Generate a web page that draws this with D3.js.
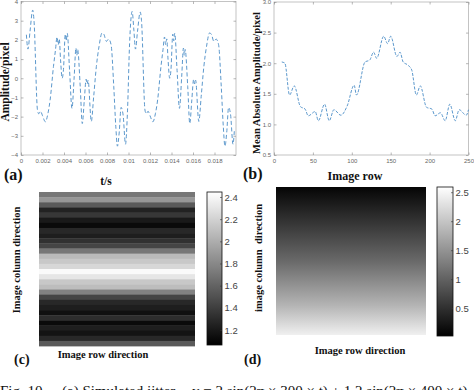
<!DOCTYPE html>
<html><head><meta charset="utf-8">
<script src="https://cdn.jsdelivr.net/npm/d3@7/dist/d3.min.js"></script>
<style>body{margin:0;background:#fff}svg{display:block}</style></head>
<body>
<svg id="fig" width="474" height="390"></svg>
<script>
// ---- Panel (a): simulated jitter ----
const tA = [0.00050,0.00065,0.00084,0.00109,0.00121,0.00153,0.00165,0.00182,0.00200,0.00227,0.00250,0.00271,0.00302,0.00321,0.00335,0.00346,0.00356,0.00368,0.00383,0.00395,0.00412,0.00421,0.00430,0.00452,0.00474,0.00495,0.00511,0.00519,0.00527,0.00551,0.00570,0.00589,0.00606,0.00615,0.00624,0.00654,0.00676,0.00701,0.00726,0.00754,0.00772,0.00794,0.00815,0.00838,0.00863,0.00882,0.00897,0.00914,0.00931,0.00950,0.00972,0.00991,0.01010,0.01034,0.01050,
0.01065,0.01084,0.01109,0.01121,0.01153,0.01165,0.01182,0.01200,0.01227,0.01250,0.01271,0.01302,0.01321,0.01335,0.01346,0.01356,0.01368,0.01383,0.01395,0.01412,0.01421,0.01430,0.01452,0.01474,0.01495,0.01511,0.01519,0.01527,0.01551,0.01570,0.01589,0.01606,0.01615,0.01624,0.01654,0.01676,0.01701,0.01726,0.01754,0.01772,0.01794,0.01815,0.01838,0.01863,0.01882,0.01897,0.01914,0.01931,0.01950,0.01972,0.01985];
const ampA = [2.27,1.52,2.45,3.55,3.00,-1.65,-1.85,-1.72,-1.95,-2.27,-1.85,-1.13,0.61,1.49,2.15,1.75,2.05,0.96,0.00,0.45,2.30,1.95,2.35,0.40,-1.57,0.10,1.57,1.20,1.50,-0.44,-2.36,-1.13,-0.05,-0.30,-0.10,-2.25,-0.96,0.61,1.66,2.36,2.28,1.92,2.04,1.75,-0.44,-2.53,-3.54,-2.80,-1.52,-1.92,-3.44,-1.66,1.80,3.48,2.50,
1.52,2.45,3.45,3.00,-1.65,-1.85,-1.72,-1.95,-2.27,-1.85,-1.13,0.61,1.49,2.15,1.75,2.05,0.96,0.00,0.45,2.30,1.95,2.35,0.40,-1.57,0.10,1.57,1.20,1.50,-0.44,-2.36,-1.13,-0.05,-0.30,-0.10,-2.25,-0.96,0.61,1.66,2.36,2.28,1.92,2.04,1.75,-0.44,-2.53,-3.54,-2.80,-1.52,-1.92,-3.44,-2.70];
const tickAX = [0,0.002,0.004,0.006,0.008,0.01,0.012,0.014,0.016,0.018];
const tickAY = [-4,-3,-2,-1,0,1,2,3,4];

// ---- Panel (b): mean absolute amplitude per image row ----
const rowB  = [10,14,20,26,34,40,44,53,57,65,71,77,86,94,103,106,117,123,128,132,141,146,150,158,162,166,172,177,183,188,196,203,207,214,220,226,233,238,247,250];
const meanB = [2.02,2.00,1.48,1.63,1.29,1.25,1.14,1.21,1.06,1.33,1.06,1.24,1.15,1.30,1.64,1.48,2.02,2.05,2.18,2.08,2.44,2.32,2.44,2.11,2.18,2.02,1.97,1.89,1.48,1.63,1.28,1.25,1.14,1.19,1.06,1.33,1.06,1.24,1.15,1.24];
const tickBX = [0,50,100,150,200,250];
const tickBY = [0.5,1,1.5,2,2.5,3];

// ---- Panel (c): stripe values, top to bottom ----
const stripesC = [1.71,1.88,1.55,1.25,1.36,1.20,1.12,1.28,1.23,1.33,1.44,1.71,2.07,2.15,2.23,2.42,2.31,2.15,2.09,1.77,1.44,1.28,1.23,1.15,1.31,1.12,1.23,1.17,1.28,1.55];
const cbTicksC = [1.2,1.4,1.6,1.8,2,2.2,2.4];
const cbDomainC = [1.065,2.445];

// ---- Panel (d): gradient values, top to bottom ----
const gradD = [0.07,0.27,0.47,0.68,0.88,1.08,1.33,1.58,1.83,2.14,2.44];
const cbTicksD = [0.5,1,1.5,2,2.5];
const cbDomainD = [0.02,2.59];

const svg = d3.select("#fig");
svg.append("rect").attr("width",474).attr("height",390).attr("fill","#fff");
const serif = "'Liberation Serif','Times New Roman',serif";
const sans = "'Liberation Sans',Arial,sans-serif";
const lineCol = "#4a8cc6";

function styleAxis(g, fs){
  g.select(".domain").remove();
  g.selectAll(".tick line").attr("stroke","#888").attr("stroke-width",0.6);
  g.selectAll(".tick text").attr("fill","#666").attr("font-size",fs).attr("font-family",sans);
}
function frame(x, y, tx, ty, fmtX){
  const [x0,x1] = x.range(), [y0,y1] = y.range();
  svg.append("rect").attr("x",x0).attr("y",y1).attr("width",x1-x0).attr("height",y0-y1)
     .attr("fill","none").attr("stroke","#aaa").attr("stroke-width",0.7);
  const b = svg.append("g").attr("transform",`translate(0,${y0})`)
     .call(d3.axisBottom(x).tickValues(tx).tickSize(-2.5).tickPadding(4).tickFormat(fmtX));
  styleAxis(b,"6px");
  const t = svg.append("g").attr("transform",`translate(0,${y1})`)
     .call(d3.axisTop(x).tickValues(tx).tickSize(-2.5).tickFormat(""));
  styleAxis(t,"6px");
  const l = svg.append("g").attr("transform",`translate(${x0},0)`)
     .call(d3.axisLeft(y).tickValues(ty).tickSize(-2.5).tickPadding(3));
  styleAxis(l,"6px");
  const r = svg.append("g").attr("transform",`translate(${x1},0)`)
     .call(d3.axisRight(y).tickValues(ty).tickSize(-2.5).tickFormat(""));
  styleAxis(r,"6px");
}

// Panel (a)
const xA = d3.scaleLinear().domain([0,0.02]).range([21,236]);
const yA = d3.scaleLinear().domain([-4,4]).range([155,1.5]);
frame(xA,yA,tickAX,tickAY,d=>String(d));
svg.append("path").datum(tA.map((t,i)=>[t,ampA[i]]))
  .attr("d",d3.line().x(d=>xA(d[0])).y(d=>yA(d[1])).curve(d3.curveMonotoneX))
  .attr("fill","none").attr("stroke",lineCol).attr("stroke-width",0.9).attr("stroke-dasharray","4,2.5");

// Panel (b)
const xB = d3.scaleLinear().domain([0,250]).range([274,468.5]);
const yB = d3.scaleLinear().domain([0.5,3]).range([155,2]);
frame(xB,yB,tickBX,tickBY,d=>String(d));
svg.append("path").datum(rowB.map((r,i)=>[r,meanB[i]]))
  .attr("d",d3.line().x(d=>xB(d[0])).y(d=>yB(d[1])).curve(d3.curveMonotoneX))
  .attr("fill","none").attr("stroke",lineCol).attr("stroke-width",0.9).attr("stroke-dasharray","3,1.5");

const grayI = d3.interpolateRgb("#000","#fff");
const defs = svg.append("defs");
function colorbar(id, x0, x1, yScale, ticks, color){
  const [d0,d1] = yScale.domain();
  const grad = defs.append("linearGradient").attr("id",id).attr("x1",0).attr("y1",1).attr("x2",0).attr("y2",0);
  d3.range(0,1.0001,0.1).forEach(f=>grad.append("stop").attr("offset",f).attr("stop-color",color(d0+f*(d1-d0))));
  const [ya,yb] = yScale.range();
  svg.append("rect").attr("x",x0).attr("y",yb).attr("width",x1-x0).attr("height",ya-yb)
     .attr("fill",`url(#${id})`).attr("stroke","#111").attr("stroke-width",0.8);
  const g = svg.append("g").attr("transform",`translate(${x1},0)`)
     .call(d3.axisRight(yScale).tickValues(ticks).tickSize(-2).tickPadding(2.5).tickFormat(d=>String(d)));
  g.select(".domain").remove();
  g.selectAll(".tick line").attr("stroke","#333").attr("stroke-width",0.6);
  g.selectAll(".tick text").attr("fill","#444").attr("font-size","9.5px").attr("font-family",sans);
}

// Panel (c)
const cC = d3.scaleSequential(grayI).domain(cbDomainC);
const yC = d3.scaleBand().domain(d3.range(stripesC.length)).range([192,346]);
svg.append("g").selectAll("rect").data(stripesC).join("rect")
  .attr("x",39).attr("width",156).attr("y",(d,i)=>yC(i)).attr("height",yC.bandwidth()+0.4)
  .attr("fill",d=>cC(d));
colorbar("cbc",207,222,d3.scaleLinear().domain(cbDomainC).range([345,192]),cbTicksC,cC);

// Panel (d)
const cD = d3.scaleSequential(grayI).domain(cbDomainD);
const offD = d3.scaleLinear().domain([0,gradD.length-1]).range([0,1]);
const gd = defs.append("linearGradient").attr("id","gd").attr("x1",0).attr("y1",0).attr("x2",0).attr("y2",1);
gradD.forEach((v,i)=>gd.append("stop").attr("offset",offD(i)).attr("stop-color",cD(v)));
svg.append("rect").attr("x",276).attr("y",187).attr("width",150).attr("height",148).attr("fill","url(#gd)");
colorbar("cbd",437,453,d3.scaleLinear().domain(cbDomainD).range([336,187]),cbTicksD,cD);

// Texts
function txt(s,x,y,size,opts={}){
  const t = svg.append("text").attr("x",x).attr("y",y).text(s)
    .attr("font-family",opts.family||serif).attr("font-weight",opts.weight||"bold")
    .attr("font-size",size).attr("fill","#111").attr("text-anchor",opts.anchor||"start");
  if(opts.rot) t.attr("transform",`rotate(-90,${x},${y})`);
  return t;
}
txt("Amplitude/pixel",9,82,"11.5px",{anchor:"middle",rot:true});
txt("(a)",4,180,"16px");
txt("t/s",106,185,"11.5px",{anchor:"middle"});
txt("Mean Absolute Amplitude/pixel",260,83,"10.5px",{anchor:"middle",rot:true});
txt("(b)",243,179,"16px");
txt("Image row",355,180,"12px",{anchor:"middle"});
txt("Image column direction",19.5,260,"10.5px",{anchor:"middle",rot:true});
txt("(c)",14,364,"14px");
txt("Image row direction",103,358,"10.5px",{anchor:"middle"});
txt("image column  direction",262,258,"10.5px",{anchor:"middle",rot:true}).attr("xml:space","preserve").style("white-space","pre");
txt("(d)",244,364,"14px");
txt("Image row direction",360,354,"10.5px",{anchor:"middle"});
const cap = svg.append("text").attr("y",396).attr("font-family",serif).attr("font-size","15px").attr("fill","#111");
cap.append("tspan").attr("x",0).text("Fig. 10");
cap.append("tspan").attr("x",62).text("(a) Simulated jitter");
cap.append("tspan").attr("x",192).text("y = 2 sin(2π × 300 × t) + 1.2 sin(2π × 400 × t)");
</script>
</body></html>
